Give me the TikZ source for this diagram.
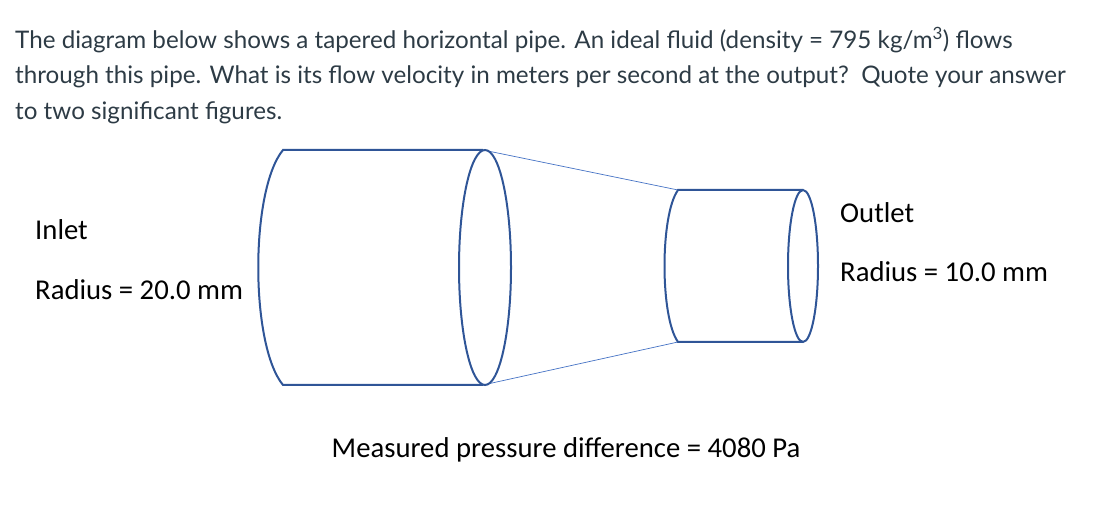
\documentclass[tikz,border=0pt]{standalone}
\usepackage{fontspec}
\setmainfont{Lato}
\newfontfamily\calib{Carlito}
\begin{document}
\begin{tikzpicture}[x=1pt,y=-1pt,
  pipe/.style={color={rgb,255:red,47;green,85;blue,151}, line width=2pt},
  thin/.style={draw={rgb,255:red,68;green,114;blue,196}, line width=0.7pt},
  q/.style={anchor=west, font=\fontsize{24.2}{28}\selectfont, text={rgb,255:red,45;green,59;blue,69}, inner sep=0},
  lab/.style={anchor=west, font=\calib\fontsize{28.7}{32}\selectfont, inner sep=0}]
\useasboundingbox (0,0) rectangle (1098,510);
\node[q] (l1) at (15,40) {The diagram below shows a tapered horizontal pipe. An ideal fluid (density = 795 kg/m\textsuperscript{3}) flows};
\node[q] (l2) at (15,77) {through this pipe. What is its flow velocity in meters per second at the output?\ \ Quote your answer};
\node[q] (l3) at (15,113) {to two significant figures.};
% big cylinder
\coordinate (bt) at (483,150); \coordinate (bb) at (483,385);
\coordinate (st) at (678,190); \coordinate (sb) at (678,342);
\draw[thin] (bt) -- (st);
\draw[thin] (bb) -- (sb);
\draw[pipe] (bt) -- (283,150) .. controls (250,190) and (250,345) .. (283,385) -- (bb);
\draw[pipe] (485,267.5) ellipse [x radius=26, y radius=117.5];
% small cylinder
\draw[pipe] (803,190) -- (st) .. controls (660,215) and (660,317) .. (sb) -- (803,342);
\draw[pipe] (803,266) ellipse [x radius=15, y radius=76];
\node[lab] (inlet) at (35,230) {Inlet};
\node[lab] (rin) at (35,290) {Radius = 20.0 mm};
\node[lab] (outlet) at (840,213) {Outlet};
\node[lab] (rout) at (840,272) {Radius = 10.0 mm};
\node[lab, anchor=center] (dp) at (566,450) {Measured pressure difference = 4080 Pa};
\end{tikzpicture}
\end{document}
